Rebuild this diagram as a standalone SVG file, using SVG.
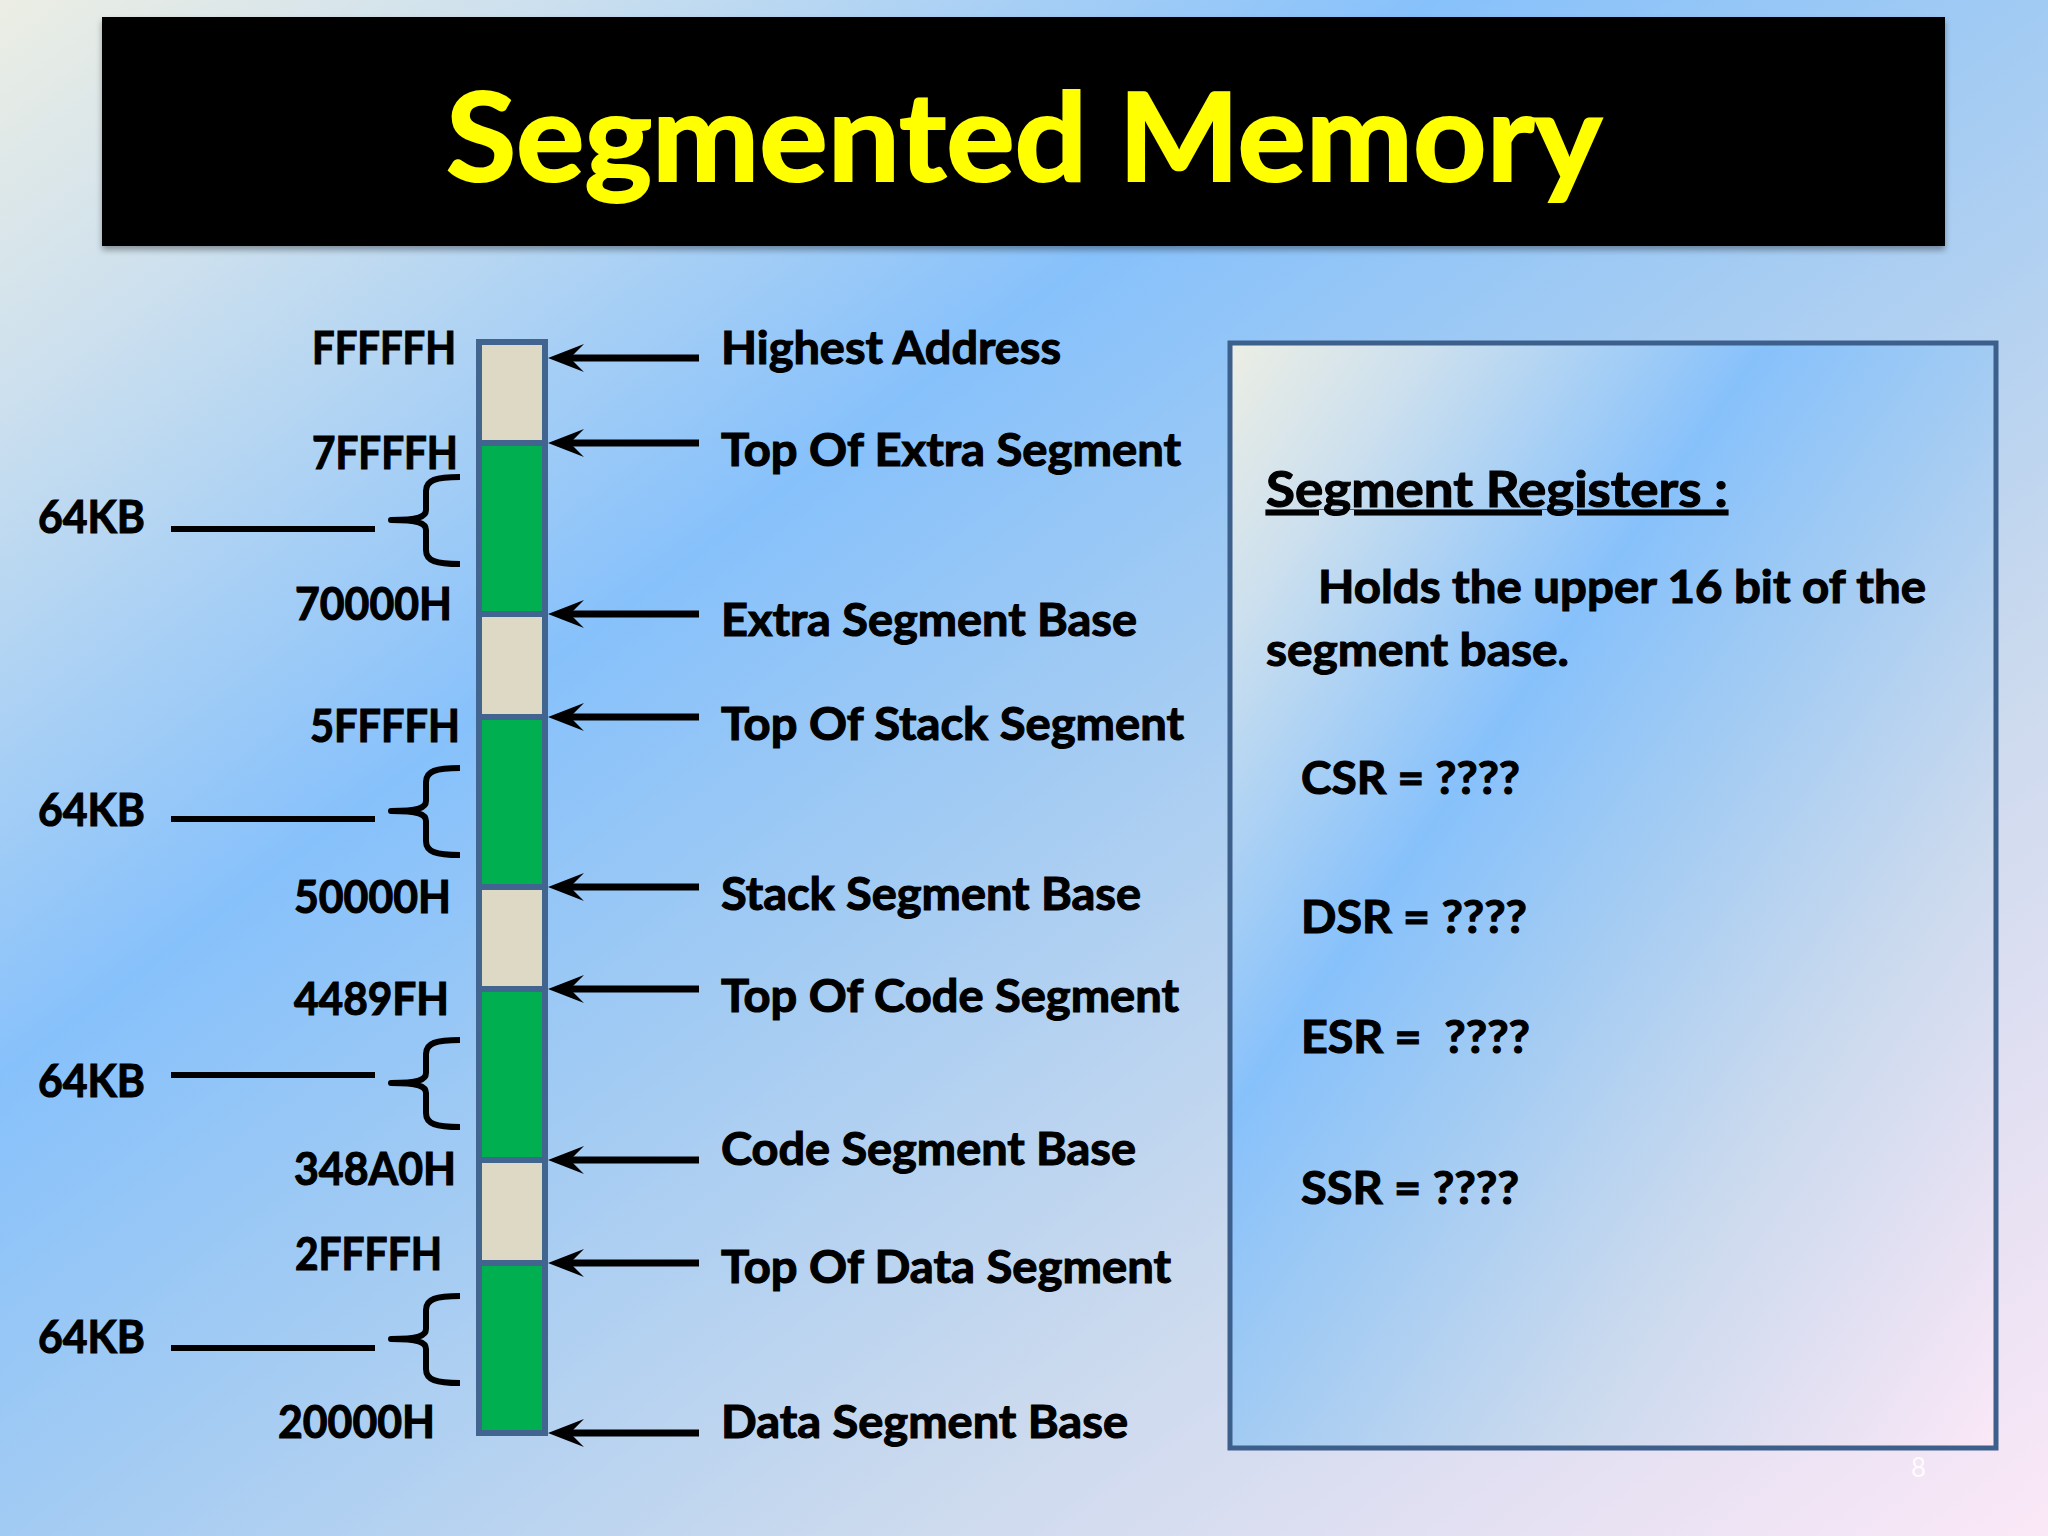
<svg xmlns="http://www.w3.org/2000/svg" width="2048" height="1536" viewBox="0 0 2048 1536">
<defs>
  <linearGradient id="bg" x1="0" y1="0" x2="1" y2="1">
    <stop offset="0" stop-color="#eceee4"/>
    <stop offset="0.13" stop-color="#cde0ee"/>
    <stop offset="0.35" stop-color="#87c1fb"/>
    <stop offset="0.5" stop-color="#a2cbf3"/>
    <stop offset="0.7" stop-color="#c9d9ee"/>
    <stop offset="0.85" stop-color="#e2e0f2"/>
    <stop offset="1" stop-color="#fbe8f7"/>
  </linearGradient>
  <filter id="shadow" x="-5%" y="-10%" width="110%" height="130%">
    <feDropShadow dx="0" dy="4" stdDeviation="3" flood-color="#000" flood-opacity="0.35"/>
  </filter>
  <marker id="arrow" markerUnits="userSpaceOnUse" orient="auto" refX="0" refY="0" markerWidth="60" markerHeight="40" viewBox="-20 -20 60 40" overflow="visible">
    <path d="M22,0 L-14,-14 L0,0 L-14,14 Z" fill="#000"/>
  </marker>
  <path id="brace" d="M460,-43 C436,-43 426,-40 426,-29 L426,-10 C426,-3 418,0 391,0 C418,0 426,3 426,10 L426,30 C426,41 436,44 460,44" fill="none" stroke="#000" stroke-width="6" stroke-linejoin="round" stroke-linecap="butt"/>
</defs>
<style>
  text { font-family: Lato, "Open Sans", "Liberation Sans", sans-serif; font-weight: 700; fill: #000; stroke: #000; stroke-width: 1.1px; }
  .lbl { font-size: 45px; }
  .hdr { font-size: 50px; text-decoration: underline; }
  .body { font-size: 46px; }
  .title { font-size: 123px; fill: #ffff00; stroke: #ffff00; stroke-width: 2px; }
  .pg { font-size: 26px; font-weight: 400; fill: #ffffff; stroke: none; }
  .seg-free { fill: #ddd9c4; }
  .seg-used { fill: #00b050; }
  .outline { fill: none; stroke: #41658f; stroke-width: 6; }
  .sep { stroke: #41658f; stroke-width: 6; }
  .conn { stroke: #000; stroke-width: 7; fill: none; }
  .size { stroke: #000; stroke-width: 6; }
</style>

<rect x="0" y="0" width="2048" height="1536" fill="url(#bg)"/>

<g id="title">
  <rect x="102" y="17" width="1843" height="229" fill="#000" filter="url(#shadow)"/>
  <text class="title" x="446" y="181" textLength="1156" lengthAdjust="spacingAndGlyphs">Segmented Memory</text>
</g>

<g id="memory-column">
  <rect class="seg-free" x="479" y="342" width="66" height="101"/>
  <rect class="seg-used" x="479" y="443" width="66" height="171"/>
  <rect class="seg-free" x="479" y="614" width="66" height="103"/>
  <rect class="seg-used" x="479" y="717" width="66" height="170"/>
  <rect class="seg-free" x="479" y="887" width="66" height="102"/>
  <rect class="seg-used" x="479" y="989" width="66" height="171"/>
  <rect class="seg-free" x="479" y="1160" width="66" height="103"/>
  <rect class="seg-used" x="479" y="1263" width="66" height="170"/>
  <line class="sep" x1="479" y1="443" x2="545" y2="443"/>
  <line class="sep" x1="479" y1="614" x2="545" y2="614"/>
  <line class="sep" x1="479" y1="717" x2="545" y2="717"/>
  <line class="sep" x1="479" y1="887" x2="545" y2="887"/>
  <line class="sep" x1="479" y1="989" x2="545" y2="989"/>
  <line class="sep" x1="479" y1="1160" x2="545" y2="1160"/>
  <line class="sep" x1="479" y1="1263" x2="545" y2="1263"/>
  <rect class="outline" x="479" y="342" width="66" height="1091"/>
</g>

<g id="address-labels">
  <text class="lbl" x="312" y="364" textLength="144" lengthAdjust="spacingAndGlyphs">FFFFFH</text>
  <text class="lbl" x="312" y="469" textLength="146" lengthAdjust="spacingAndGlyphs">7FFFFH</text>
  <text class="lbl" x="295" y="620" textLength="157" lengthAdjust="spacingAndGlyphs">70000H</text>
  <text class="lbl" x="310" y="742" textLength="150" lengthAdjust="spacingAndGlyphs">5FFFFH</text>
  <text class="lbl" x="294" y="913" textLength="157" lengthAdjust="spacingAndGlyphs">50000H</text>
  <text class="lbl" x="294" y="1015" textLength="155" lengthAdjust="spacingAndGlyphs">4489FH</text>
  <text class="lbl" x="294" y="1185" textLength="162" lengthAdjust="spacingAndGlyphs">348A0H</text>
  <text class="lbl" x="295" y="1270" textLength="147" lengthAdjust="spacingAndGlyphs">2FFFFH</text>
  <text class="lbl" x="278" y="1438" textLength="157" lengthAdjust="spacingAndGlyphs">20000H</text>
</g>

<g id="size-labels">
  <g id="size-extra">
    <text class="lbl" x="38" y="533" textLength="107" lengthAdjust="spacingAndGlyphs">64KB</text>
    <line class="size" x1="171" y1="529" x2="375" y2="529"/>
    <use href="#brace" transform="translate(0,520)"/>
  </g>
  <g id="size-stack">
    <text class="lbl" x="38" y="826" textLength="107" lengthAdjust="spacingAndGlyphs">64KB</text>
    <line class="size" x1="171" y1="819" x2="375" y2="819"/>
    <use href="#brace" transform="translate(0,811)"/>
  </g>
  <g id="size-code">
    <text class="lbl" x="38" y="1097" textLength="107" lengthAdjust="spacingAndGlyphs">64KB</text>
    <line class="size" x1="171" y1="1075" x2="375" y2="1075"/>
    <use href="#brace" transform="translate(0,1083)"/>
  </g>
  <g id="size-data">
    <text class="lbl" x="38" y="1353" textLength="107" lengthAdjust="spacingAndGlyphs">64KB</text>
    <line class="size" x1="171" y1="1348" x2="375" y2="1348"/>
    <use href="#brace" transform="translate(0,1339)"/>
  </g>
</g>

<g id="connectors">
  <path class="conn" d="M699,358 H570" marker-end="url(#arrow)"/>
  <path class="conn" d="M699,443 H570" marker-end="url(#arrow)"/>
  <path class="conn" d="M699,614 H570" marker-end="url(#arrow)"/>
  <path class="conn" d="M699,717 H570" marker-end="url(#arrow)"/>
  <path class="conn" d="M699,887 H570" marker-end="url(#arrow)"/>
  <path class="conn" d="M699,989 H570" marker-end="url(#arrow)"/>
  <path class="conn" d="M699,1160 H570" marker-end="url(#arrow)"/>
  <path class="conn" d="M699,1263 H570" marker-end="url(#arrow)"/>
  <path class="conn" d="M699,1433 H570" marker-end="url(#arrow)"/>
</g>

<g id="pointer-labels">
  <text class="lbl" x="721" y="364" textLength="340" lengthAdjust="spacingAndGlyphs">Highest Address</text>
  <text class="lbl" x="721" y="466" textLength="460" lengthAdjust="spacingAndGlyphs">Top Of Extra Segment</text>
  <text class="lbl" x="721" y="636" textLength="416" lengthAdjust="spacingAndGlyphs">Extra Segment Base</text>
  <text class="lbl" x="721" y="740" textLength="463" lengthAdjust="spacingAndGlyphs">Top Of Stack Segment</text>
  <text class="lbl" x="721" y="910" textLength="420" lengthAdjust="spacingAndGlyphs">Stack Segment Base</text>
  <text class="lbl" x="721" y="1012" textLength="458" lengthAdjust="spacingAndGlyphs">Top Of Code Segment</text>
  <text class="lbl" x="721" y="1165" textLength="415" lengthAdjust="spacingAndGlyphs">Code Segment Base</text>
  <text class="lbl" x="721" y="1283" textLength="450" lengthAdjust="spacingAndGlyphs">Top Of Data Segment</text>
  <text class="lbl" x="721" y="1438" textLength="407" lengthAdjust="spacingAndGlyphs">Data Segment Base</text>
</g>

<g id="segment-registers">
  <rect x="1230" y="343" width="766" height="1105" fill="url(#bg)" stroke="#3d5f8c" stroke-width="5"/>
  <text class="hdr" x="1266" y="507" textLength="462" lengthAdjust="spacingAndGlyphs">Segment Registers :</text>
  <text class="body" x="1318" y="603" textLength="608" lengthAdjust="spacingAndGlyphs">Holds the upper 16 bit of the</text>
  <text class="body" x="1266" y="666" textLength="303" lengthAdjust="spacingAndGlyphs">segment base.</text>
  <text class="lbl" x="1301" y="794" textLength="219" lengthAdjust="spacingAndGlyphs">CSR = ????</text>
  <text class="lbl" x="1301" y="933" textLength="226" lengthAdjust="spacingAndGlyphs">DSR = ????</text>
  <text class="lbl" x="1301" y="1053" textLength="229" lengthAdjust="spacingAndGlyphs" xml:space="preserve">ESR =  ????</text>
  <text class="lbl" x="1301" y="1204" textLength="218" lengthAdjust="spacingAndGlyphs">SSR = ????</text>
</g>

<text class="pg" x="1911" y="1477" opacity="0.85">8</text>
</svg>
